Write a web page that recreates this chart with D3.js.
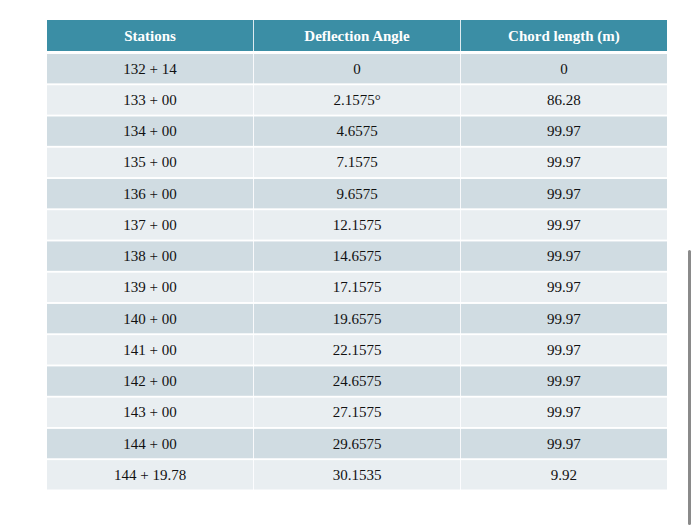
<!DOCTYPE html>
<html>
<script src="https://d3js.org/d3.v7.min.js"></script>
<body style="margin:0;background:#fff" onload="main()">
<script>
const columns = ["Stations", "Deflection Angle", "Chord length (m)"];
const stations = ["132 + 14","133 + 00","134 + 00","135 + 00","136 + 00","137 + 00","138 + 00","139 + 00","140 + 00","141 + 00","142 + 00","143 + 00","144 + 00","144 + 19.78"];
const angles = ["0","2.1575°","4.6575","7.1575","9.6575","12.1575","14.6575","17.1575","19.6575","22.1575","24.6575","27.1575","29.6575","30.1535"];
const chords = ["0","86.28","99.97","99.97","99.97","99.97","99.97","99.97","99.97","99.97","99.97","99.97","99.97","9.92"];

function main() {
  const svg = d3.select("body").append("svg")
    .attr("width", 700).attr("height", 525);
  const x = d3.scaleBand().domain(columns).range([47, 667]).paddingInner(0.004);
  const y = d3.scaleBand().domain(d3.range(stations.length)).range([54, 489.5]).paddingInner(0.06);
  const font = "'Liberation Serif', 'DejaVu Serif', serif";

  // header
  columns.forEach(function(c) {
    svg.append("rect").attr("x", x(c)).attr("y", 20)
      .attr("width", x.bandwidth()).attr("height", 31).attr("fill", "#3b8ea5");
    svg.append("text").text(c)
      .attr("x", x(c) + x.bandwidth() / 2).attr("y", 40.5)
      .attr("text-anchor", "middle").attr("fill", "#fff")
      .attr("font-family", font).attr("font-weight", "bold").attr("font-size", 15);
  });

  const rows = stations.map(function(s, i) { return [s, angles[i], chords[i]]; });
  rows.forEach(function(r, i) {
    r.forEach(function(v, j) {
      svg.append("rect").attr("x", x(columns[j])).attr("y", y(i))
        .attr("width", x.bandwidth()).attr("height", y.bandwidth())
        .attr("fill", i % 2 == 0 ? "#d0dce2" : "#e9eef1");
      svg.append("text").text(v)
        .attr("x", x(columns[j]) + x.bandwidth() / 2).attr("y", y(i) + y.bandwidth() / 2 + 5)
        .attr("text-anchor", "middle").attr("fill", "#111")
        .attr("font-family", font).attr("font-size", 15);
    });
  });

  // scrollbar
  svg.append("rect").attr("x", 688).attr("y", 250).attr("width", 3).attr("height", 275)
    .attr("rx", 1.5).attr("fill", "#8a8a8a");
}
</script>
</body>
</html>
